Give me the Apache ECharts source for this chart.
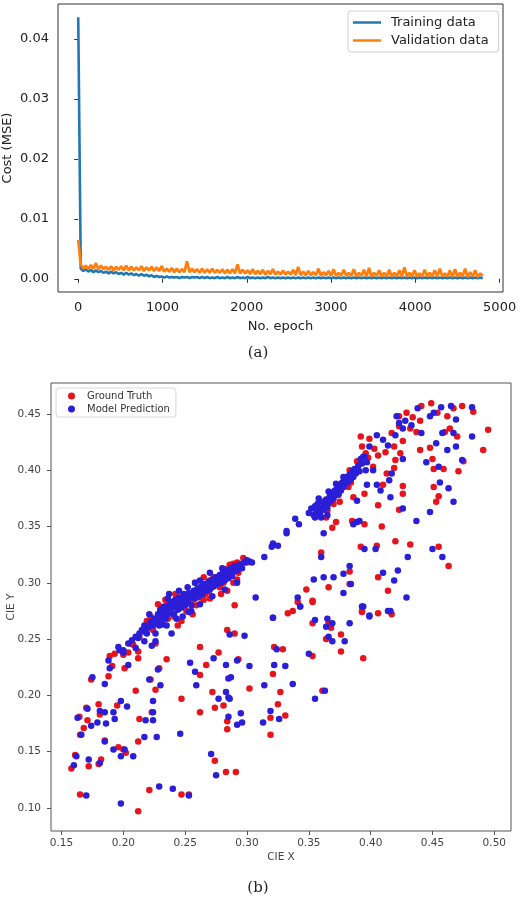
<!DOCTYPE html>
<html>
<head>
<meta charset="utf-8">
<script src="https://cdn.jsdelivr.net/npm/echarts@6/dist/echarts.min.js"></script>
<style>
html,body{margin:0;padding:0;background:#fff;}
#chart{width:520px;height:903px;}
</style>
</head>
<body>
<div id="chart"></div>
<script>
// ---------- Panel (a): training curves ----------
const epochStep = 30; // one recorded value every 30 epochs, epochs 0..4800
const trainingCost = [
0.0436,0.0017,0.0013,0.0016,0.0012,0.0015,0.0011,0.0014,0.0011,0.0013,
0.0010,0.0012,0.0009,0.0012,0.0009,0.0011,0.0008,0.0010,0.0007,0.0010,
0.0007,0.0009,0.0006,0.0008,0.0005,0.0008,0.0005,0.0007,0.0004,0.0006,
0.0003,0.0005,0.0003,0.0004,0.0002,0.0004,0.0002,0.0003,0.0002,0.0003,
0.0001,0.0003,0.0002,0.0003,0.0001,0.0003,0.0002,0.0003,0.0001,0.0003,
0.0001,0.0003,0.0001,0.0002,0.0001,0.0003,0.0001,0.0002,0.0001,0.0003,
0.0001,0.0002,0.0001,0.0003,0.0001,0.0002,0.0001,0.0003,0.0001,0.0002,
0.0001,0.0002,0.0001,0.0002,0.0001,0.0003,0.0001,0.0002,0.0001,0.0002,
0.0001,0.0002,0.0001,0.0002,0.0001,0.0002,0.0001,0.0002,0.0001,0.0002,
0.0001,0.0002,0.0001,0.0002,0.0001,0.0002,0.0001,0.0002,0.0001,0.0002,
0.0001,0.0002,0.0001,0.0002,0.0001,0.0002,0.0001,0.0002,0.0001,0.0002,
0.0001,0.0002,0.0001,0.0002,0.0001,0.0002,0.0001,0.0002,0.0001,0.0002,
0.0001,0.0002,0.0001,0.0002,0.0001,0.0002,0.0001,0.0002,0.0001,0.0002,
0.0001,0.0002,0.0001,0.0002,0.0001,0.0002,0.0001,0.0002,0.0001,0.0002,
0.0001,0.0002,0.0001,0.0002,0.0001,0.0002,0.0001,0.0002,0.0001,0.0002,
0.0001,0.0002,0.0001,0.0002,0.0001,0.0002,0.0001,0.0002,0.0001,0.0002,
0.0001
];
const validationCost = [
0.0065,0.0024,0.0017,0.0022,0.0016,0.0023,0.0017,0.0026,0.0016,0.0022,
0.0016,0.0020,0.0015,0.0021,0.0014,0.0020,0.0015,0.0021,0.0014,0.0022,
0.0014,0.0020,0.0014,0.0019,0.0014,0.0021,0.0013,0.0019,0.0014,0.0020,
0.0013,0.0019,0.0013,0.0021,0.0012,0.0017,0.0012,0.0018,0.0011,0.0017,
0.0011,0.0016,0.0011,0.0029,0.0011,0.0017,0.0011,0.0016,0.0010,0.0017,
0.0010,0.0016,0.0010,0.0017,0.0010,0.0015,0.0010,0.0016,0.0009,0.0015,
0.0009,0.0016,0.0009,0.0024,0.0009,0.0015,0.0009,0.0014,0.0008,0.0016,
0.0008,0.0013,0.0008,0.0015,0.0007,0.0013,0.0008,0.0016,0.0007,0.0012,
0.0007,0.0014,0.0007,0.0012,0.0007,0.0015,0.0006,0.0020,0.0006,0.0012,
0.0006,0.0013,0.0006,0.0011,0.0006,0.0017,0.0005,0.0011,0.0006,0.0013,
0.0005,0.0016,0.0005,0.0010,0.0005,0.0015,0.0005,0.0010,0.0005,0.0016,
0.0004,0.0010,0.0005,0.0015,0.0004,0.0018,0.0004,0.0010,0.0005,0.0014,
0.0004,0.0010,0.0004,0.0015,0.0004,0.0010,0.0004,0.0014,0.0004,0.0019,
0.0004,0.0010,0.0004,0.0014,0.0004,0.0009,0.0004,0.0015,0.0004,0.0010,
0.0004,0.0014,0.0004,0.0017,0.0004,0.0009,0.0004,0.0014,0.0003,0.0016,
0.0004,0.0010,0.0004,0.0017,0.0003,0.0011,0.0004,0.0014,0.0003,0.0009,
0.0005
];
const epochTicks = [0,1000,2000,3000,4000,5000];
const costTicks = [0.00,0.01,0.02,0.03,0.04];

// ---------- Panel (b): CIE scatter ----------
const groundTruth = [
[0.158,0.135],[0.161,0.147],[0.165,0.112],[0.172,0.137],[0.180,0.139],[0.182,0.143],[0.165,0.165],[0.1645,0.181],
[0.168,0.171],[0.170,0.189],[0.171,0.178],[0.180,0.192],[0.181,0.183],[0.185,0.160],[0.195,0.191],[0.196,0.154],
[0.202,0.149],[0.200,0.152],[0.174,0.214],[0.188,0.217],[0.189,0.235],[0.191,0.226],[0.193,0.237],[0.201,0.224],
[0.204,0.238],[0.206,0.246],[0.212,0.233],[0.210,0.204],[0.213,0.179],[0.212,0.159],[0.212,0.097],[0.221,0.116],
[0.222,0.214],[0.223,0.185],[0.226,0.205],[0.226,0.246],[0.229,0.224],[0.235,0.232],[0.247,0.197],[0.247,0.112],
[0.253,0.112],[0.262,0.218],[0.262,0.243],[0.262,0.185],[0.267,0.227],[0.272,0.203],[0.274,0.189],[0.274,0.142],
[0.277,0.238],[0.281,0.191],[0.283,0.132],[0.284,0.177],[0.284,0.170],[0.284,0.258],[0.290,0.255],[0.291,0.132],
[0.293,0.232],[0.302,0.206],[0.319,0.180],[0.319,0.165],[0.321,0.219],[0.322,0.243],[0.325,0.192],[0.327,0.203],
[0.329,0.241],[0.331,0.182],[0.333,0.273],[0.337,0.275],[0.341,0.283],[0.353,0.264],[0.353,0.235],[0.353,0.283],
[0.361,0.204],[0.364,0.250],[0.366,0.264],[0.368,0.260],[0.376,0.254],[0.376,0.239],[0.393,0.274],[0.394,0.233],
[0.406,0.273],[0.417,0.272],
[0.213,0.252],[0.216,0.258],[0.218,0.262],[0.219,0.266],[0.221,0.262],[0.224,0.258],[0.226,0.268],[0.228,0.264],
[0.231,0.278],[0.233,0.272],[0.234,0.285],[0.236,0.268],[0.238,0.275],[0.240,0.280],[0.241,0.270],[0.243,0.284],
[0.245,0.277],[0.247,0.266],[0.248,0.288],[0.250,0.282],[0.251,0.275],[0.253,0.290],[0.254,0.283],[0.256,0.285],
[0.258,0.292],[0.259,0.280],[0.261,0.294],[0.262,0.287],[0.264,0.296],[0.266,0.290],[0.267,0.299],[0.269,0.292],
[0.270,0.302],[0.272,0.296],[0.273,0.305],[0.275,0.298],[0.277,0.303],[0.278,0.296],[0.280,0.308],[0.281,0.300],
[0.283,0.312],[0.284,0.305],[0.286,0.316],[0.287,0.308],[0.289,0.300],[0.290,0.313],[0.292,0.318],[0.293,0.309],
[0.295,0.317],[0.242,0.290],[0.236,0.282],[0.290,0.280],[0.208,0.245],[0.212,0.239],[0.200,0.236],[0.222,0.270],
[0.258,0.300],[0.265,0.305],[0.235,0.285],[0.265,0.285],[0.265,0.296],[0.276,0.305],[0.289,0.317],[0.300,0.318],
[0.292,0.303],[0.284,0.293],[0.228,0.281],[0.244,0.262],[0.256,0.272],[0.270,0.286],[0.279,0.290],[0.297,0.322],
[0.360,0.327],[0.359,0.361],[0.365,0.364],[0.370,0.370],[0.374,0.378],[0.377,0.387],[0.380,0.394],[0.383,0.400],
[0.386,0.397],[0.369,0.349],[0.372,0.354],[0.364,0.358],[0.355,0.361],[0.384,0.389],[0.375,0.372],[0.367,0.376],
[0.389,0.408],[0.385,0.355],
[0.406,0.305],[0.414,0.293],[0.383,0.310],[0.383,0.299],[0.366,0.296],[0.348,0.294],[0.353,0.284],[0.393,0.275],
[0.392,0.332],
[0.449,0.4595],[0.474,0.457],[0.483,0.452],[0.495,0.436],[0.491,0.418],[0.471,0.399],[0.475,0.408],[0.462,0.448],
[0.460,0.434],[0.454,0.451],[0.441,0.457],[0.437,0.434],[0.429,0.451],[0.423,0.448],[0.423,0.439],[0.417,0.433],
[0.424,0.415],[0.420,0.409],[0.419,0.402],[0.426,0.386],[0.426,0.379],[0.423,0.365],[0.410,0.387],[0.413,0.397],
[0.402,0.403],[0.398,0.411],[0.396,0.415],[0.399,0.428],[0.393,0.421],[0.392,0.430],[0.395,0.379],[0.395,0.352],
[0.409,0.350],[0.405,0.333],[0.420,0.337],[0.432,0.334],[0.448,0.420],[0.450,0.410],[0.451,0.401],[0.459,0.401],
[0.453,0.372],[0.455,0.377],[0.455,0.332],[0.463,0.315],[0.451,0.385],[0.406,0.369],[0.386,0.376],[0.382,0.385],
[0.403,0.419],[0.406,0.413],[0.412,0.416],[0.434,0.447],[0.440,0.444],[0.464,0.437],[0.470,0.430],[0.467,0.455],
[0.440,0.418],[0.426,0.426],[0.419,0.421],[0.432,0.437]
];
const modelPrediction = [
[0.160,0.138],[0.162,0.146],[0.163,0.180],[0.166,0.165],[0.170,0.111],[0.171,0.188],[0.172,0.143],[0.174,0.173],
[0.175,0.216],[0.179,0.176],[0.181,0.140],[0.181,0.186],[0.185,0.185],[0.185,0.159],[0.185,0.210],[0.186,0.175],
[0.188,0.231],[0.189,0.224],[0.192,0.185],[0.192,0.152],[0.193,0.179],[0.197,0.240],[0.198,0.146],[0.198,0.195],
[0.198,0.104],[0.200,0.238],[0.201,0.152],[0.203,0.190],[0.204,0.227],[0.208,0.146],[0.210,0.242],[0.212,0.251],
[0.217,0.163],[0.218,0.178],[0.219,0.255],[0.221,0.214],[0.223,0.244],[0.224,0.195],[0.224,0.185],[0.224,0.178],
[0.227,0.163],[0.228,0.223],[0.230,0.209],[0.229,0.119],[0.239,0.255],[0.240,0.117],[0.246,0.166],[0.253,0.111],
[0.254,0.229],[0.258,0.221],[0.259,0.209],[0.271,0.148],[0.273,0.233],[0.275,0.129],[0.277,0.197],[0.283,0.227],
[0.283,0.203],[0.285,0.198],[0.285,0.181],[0.285,0.215],[0.286,0.197],[0.287,0.216],[0.286,0.254],[0.292,0.174],
[0.292,0.231],[0.295,0.184],[0.296,0.176],[0.298,0.253],[0.302,0.226],[0.314,0.209],[0.313,0.176],[0.319,0.186],
[0.321,0.269],[0.324,0.241],[0.322,0.227],[0.326,0.179],[0.331,0.226],[0.337,0.210],[0.343,0.279],[0.350,0.237],
[0.355,0.197],[0.355,0.267],[0.363,0.204],[0.364,0.261],[0.366,0.252],[0.369,0.248],[0.369,0.264],[0.379,0.248],
[0.383,0.264],[0.394,0.279],[0.399,0.271],[0.414,0.275],
[0.196,0.243],[0.200,0.240],[0.204,0.246],[0.207,0.249],[0.210,0.252],[0.213,0.255],[0.215,0.258],[0.217,0.262],
[0.218,0.256],[0.220,0.260],[0.222,0.265],[0.224,0.262],[0.225,0.268],[0.227,0.266],[0.228,0.272],[0.229,0.262],
[0.230,0.276],[0.231,0.268],[0.232,0.272],[0.233,0.279],[0.234,0.268],[0.235,0.275],[0.236,0.272],[0.237,0.280],
[0.238,0.276],[0.239,0.283],[0.240,0.278],[0.241,0.272],[0.242,0.285],[0.243,0.280],[0.244,0.276],[0.245,0.287],
[0.246,0.282],[0.247,0.278],[0.248,0.285],[0.249,0.290],[0.250,0.280],[0.251,0.286],[0.252,0.283],[0.253,0.291],
[0.254,0.287],[0.255,0.280],[0.256,0.289],[0.257,0.293],[0.258,0.286],[0.259,0.291],[0.260,0.295],[0.261,0.288],
[0.262,0.292],[0.263,0.297],[0.264,0.290],[0.265,0.294],[0.266,0.299],[0.267,0.293],[0.268,0.297],[0.269,0.301],
[0.270,0.294],[0.271,0.298],[0.272,0.303],[0.273,0.297],[0.274,0.300],[0.275,0.305],[0.276,0.299],[0.277,0.302],
[0.278,0.307],[0.279,0.300],[0.280,0.304],[0.281,0.309],[0.282,0.302],[0.283,0.306],[0.284,0.311],[0.285,0.304],
[0.286,0.308],[0.287,0.313],[0.288,0.306],[0.289,0.310],[0.290,0.315],[0.292,0.311],[0.294,0.316],[0.296,0.313],
[0.298,0.318],[0.300,0.320],[0.302,0.319],[0.304,0.318],[0.255,0.275],[0.258,0.300],[0.248,0.270],[0.226,0.255],
[0.232,0.263],[0.236,0.286],[0.307,0.287],[0.230,0.276],
[0.237,0.290],[0.245,0.293],[0.252,0.296],[0.262,0.302],[0.270,0.309],[0.280,0.313],[0.226,0.248],[0.235,0.262],
[0.243,0.268],[0.253,0.274],[0.262,0.281],[0.272,0.288],[0.282,0.294],[0.292,0.300],[0.221,0.272],[0.217,0.248],
[0.314,0.323],[0.320,0.332],[0.321,0.335],[0.325,0.333],[0.332,0.344],[0.332,0.346],[0.339,0.357],[0.342,0.352],
[0.362,0.344],[0.360,0.323],[0.389,0.354],[0.395,0.330],[0.404,0.330],
[0.350,0.362],[0.352,0.366],[0.354,0.360],[0.355,0.368],[0.356,0.363],[0.357,0.370],[0.358,0.364],[0.359,0.361],
[0.360,0.367],[0.361,0.372],[0.362,0.365],[0.363,0.369],[0.364,0.374],[0.365,0.367],[0.366,0.371],[0.367,0.377],
[0.368,0.373],[0.369,0.380],[0.370,0.375],[0.371,0.382],[0.372,0.378],[0.373,0.384],[0.374,0.379],[0.375,0.387],
[0.376,0.382],[0.377,0.389],[0.378,0.385],[0.379,0.392],[0.380,0.388],[0.381,0.394],[0.382,0.390],[0.383,0.396],
[0.384,0.392],[0.385,0.399],[0.386,0.394],[0.387,0.401],[0.388,0.397],[0.390,0.404],[0.391,0.399],[0.392,0.410],
[0.394,0.412],[0.393,0.406],[0.358,0.375],[0.366,0.381],[0.372,0.388],[0.355,0.358],[0.365,0.360],[0.360,0.358],
[0.378,0.394],
[0.438,0.455],[0.457,0.456],[0.465,0.457],[0.482,0.456],[0.451,0.451],[0.448,0.448],[0.469,0.445],[0.433,0.440],
[0.428,0.444],[0.426,0.437],[0.420,0.431],[0.441,0.433],[0.458,0.433],[0.467,0.433],[0.482,0.430],[0.453,0.424],
[0.469,0.421],[0.462,0.418],[0.474,0.409],[0.445,0.407],[0.455,0.403],[0.456,0.389],[0.463,0.384],[0.467,0.372],
[0.448,0.363],[0.437,0.355],[0.450,0.330],[0.458,0.323],[0.430,0.323],[0.429,0.287],[0.426,0.410],[0.417,0.397],
[0.415,0.391],[0.416,0.376],[0.426,0.366],[0.408,0.382],[0.405,0.387],[0.402,0.400],[0.396,0.400],[0.397,0.407],
[0.395,0.412],[0.399,0.421],[0.405,0.431],[0.410,0.427],[0.414,0.422],[0.421,0.448],[0.423,0.442],[0.386,0.352],
[0.391,0.355],[0.397,0.387],[0.389,0.373],
[0.378,0.308],[0.384,0.299],[0.383,0.315],[0.378,0.291],[0.341,0.287],[0.343,0.279],[0.354,0.303],[0.362,0.305],
[0.370,0.305],[0.410,0.309],[0.422,0.311],[0.419,0.302],[0.393,0.279],[0.399,0.270],[0.416,0.275],[0.321,0.269],
[0.365,0.268]
];
const cieXTicks = [0.15,0.20,0.25,0.30,0.35,0.40,0.45,0.50];
const cieYTicks = [0.10,0.15,0.20,0.25,0.30,0.35,0.40,0.45];

// ---------- build ----------
const trainingData = trainingCost.map((v,i)=>[i*epochStep, v]);
const validationData = validationCost.map((v,i)=>[i*epochStep, v]);

const FONT = '"DejaVu Sans", sans-serif';
const chart = echarts.init(document.getElementById('chart'), null, {renderer:'canvas'});

function makeAxis(gridIndex, min, max, ticks, fontSize, color, margin, tickColor, fmt, name, nameGap, rotate) {
  const ax = {
    type:'value', gridIndex:gridIndex, min:min, max:max,
    axisLine:{show:false},
    splitLine:{show:false},
    axisTick:{show:true, inside:false, length:4, lineStyle:{color:tickColor, width:1}, customValues:ticks},
    axisLabel:{fontFamily:FONT, fontSize:fontSize, color:color, margin:margin, customValues:ticks, formatter:fmt},
    name:name, nameLocation:'middle', nameGap:nameGap, nameMoveOverlap:false,
    nameTextStyle:{fontFamily:FONT, fontSize:fontSize, color:color}
  };
  if (rotate) ax.nameRotate = 90;
  return ax;
}

const option = {
  animation:false,
  backgroundColor:'#fff',
  grid:[
    {left:58, top:4, width:445, height:288, show:true, borderColor:'#333', borderWidth:1,
     backgroundColor:'transparent', containLabel:false, outerBoundsMode:'none'},
    {left:51, top:383, width:460, height:448, show:true, borderColor:'#555', borderWidth:1,
     backgroundColor:'transparent', containLabel:false, outerBoundsMode:'none'}
  ],
  xAxis:[
    makeAxis(0, -240, 5040, epochTicks, 13, '#222', 9, '#333', v=>String(v), 'No. epoch', 28, false),
    makeAxis(1, 0.1415, 0.5135, cieXTicks, 10.5, '#444', 7, '#555', v=>v.toFixed(2), 'CIE X', 21, false)
  ],
  yAxis:[
    makeAxis(0, -0.0022, 0.0458, costTicks, 13, '#222', 9, '#333', v=>v.toFixed(2), 'Cost (MSE)', 44, true),
    makeAxis(1, 0.0795, 0.4775, cieYTicks, 10.5, '#444', 10, '#555', v=>v.toFixed(2), 'CIE Y', 34, true)
  ],
  legend:[
    {
      data:['Training data','Validation data'],
      orient:'vertical', left:348, top:11,
      backgroundColor:'#fff', borderColor:'#d0d0d0', borderWidth:1, borderRadius:3,
      padding:[5,10,5,5], itemGap:5, itemWidth:28, itemHeight:2.5, icon:'rect',
      textStyle:{fontFamily:FONT, fontSize:13, color:'#222', padding:[0,0,0,5]}
    },
    {
      data:['Ground Truth','Model Prediction'],
      orient:'vertical', left:56, top:388,
      backgroundColor:'#fff', borderColor:'#d8d8d8', borderWidth:1, borderRadius:3,
      padding:[3,6,3,12], itemGap:3, itemWidth:7, itemHeight:7, icon:'circle',
      textStyle:{fontFamily:FONT, fontSize:10, color:'#333', padding:[0,0,0,7]}
    }
  ],
  series:[
    {name:'Training data', type:'line', xAxisIndex:0, yAxisIndex:0, data:trainingData,
     symbol:'none', lineStyle:{color:'#1f77b4', width:2.6}, itemStyle:{color:'#1f77b4'}},
    {name:'Validation data', type:'line', xAxisIndex:0, yAxisIndex:0, data:validationData,
     symbol:'none', lineStyle:{color:'#ff7f0e', width:2.8}, itemStyle:{color:'#ff7f0e'}},
    {name:'Ground Truth', type:'scatter', xAxisIndex:1, yAxisIndex:1, data:groundTruth,
     symbolSize:6.5, itemStyle:{color:'#e8141b', opacity:1}},
    {name:'Model Prediction', type:'scatter', xAxisIndex:1, yAxisIndex:1, data:modelPrediction,
     symbolSize:6.5, itemStyle:{color:'#2a1ed8', opacity:1}}
  ],
  graphic:[
    {type:'text', x:258, y:353, style:{text:'(a)', align:'center', verticalAlign:'middle', font:'15px "DejaVu Serif", serif', fill:'#222'}},
    {type:'text', x:258, y:888, style:{text:'(b)', align:'center', verticalAlign:'middle', font:'15px "DejaVu Serif", serif', fill:'#222'}}
  ]
};
chart.setOption(option);
</script>
</body>
</html>
